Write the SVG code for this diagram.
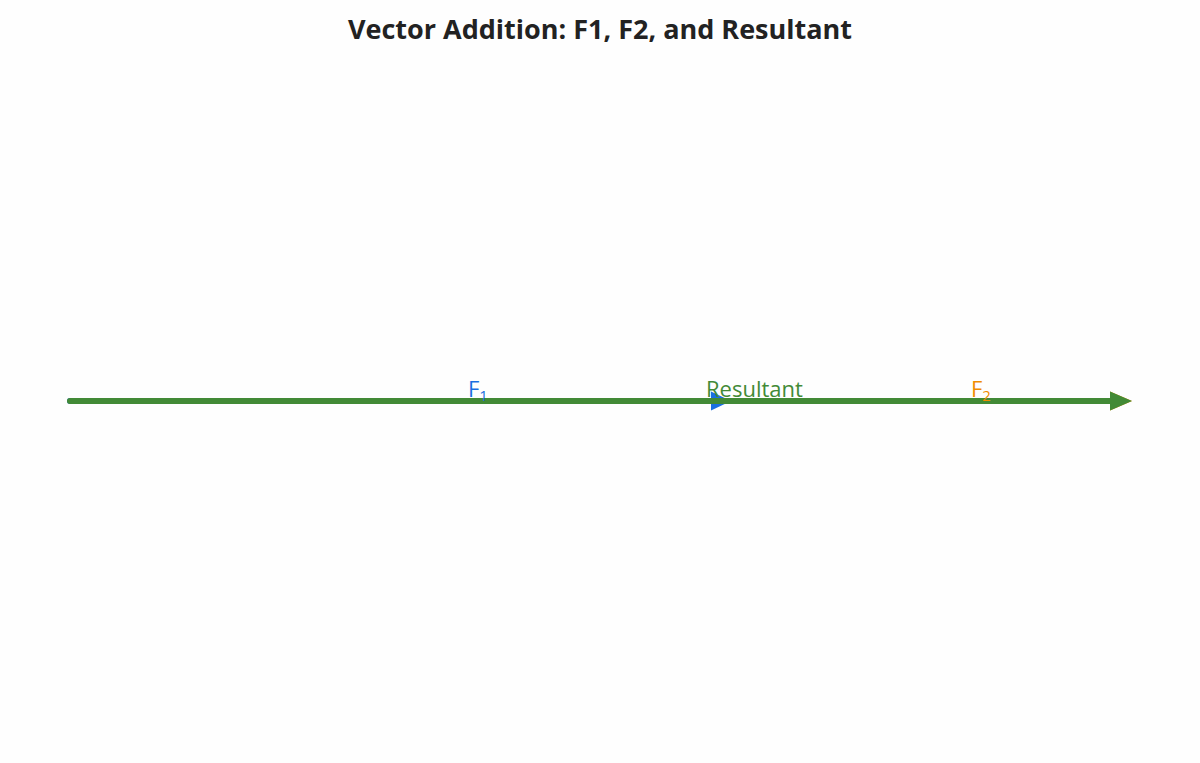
<svg xmlns="http://www.w3.org/2000/svg" width="1200" height="763" viewBox="0 0 1200 763">
<style>
.title{font-family:"Open Sans","Liberation Sans",sans-serif;font-weight:700;font-size:27px;fill:#222}
.lbl{font-family:"Open Sans","Liberation Sans",sans-serif;font-size:22px}
.sub{font-size:15px}
</style>
<rect width="1200" height="763" fill="#fefefe"/>
<text class="title" x="600" y="39" text-anchor="middle">Vector Addition: F1, F2, and Resultant</text>
<g id="connectors">
<g id="f1">
<line x1="70" y1="401" x2="712" y2="401" stroke="#1a6fe0" stroke-width="6" stroke-linecap="round"/>
<path d="M711,391.5 L731,401 L711,410.5 Z" fill="#1a6fe0"/>
</g>
<g id="f2">
<line x1="728" y1="401" x2="1112" y2="401" stroke="#f08c00" stroke-width="6"/>
<path d="M1110,391.5 L1132,401 L1110,410.5 Z" fill="#f08c00"/>
</g>
<g id="resultant">
<line x1="70" y1="401" x2="1112" y2="401" stroke="#428a36" stroke-width="6" stroke-linecap="round"/>
<path d="M1110,391.5 L1132,401 L1110,410.5 Z" fill="#428a36"/>
</g>
</g>
<g id="labels">
<text class="lbl" x="468" y="397" fill="#1a6fe0">F<tspan class="sub" dy="4">1</tspan></text>
<text class="lbl" x="706" y="397" fill="#428a36">Resultant</text>
<text class="lbl" x="971" y="397" fill="#f08c00">F<tspan class="sub" dy="4">2</tspan></text>
</g>
</svg>
